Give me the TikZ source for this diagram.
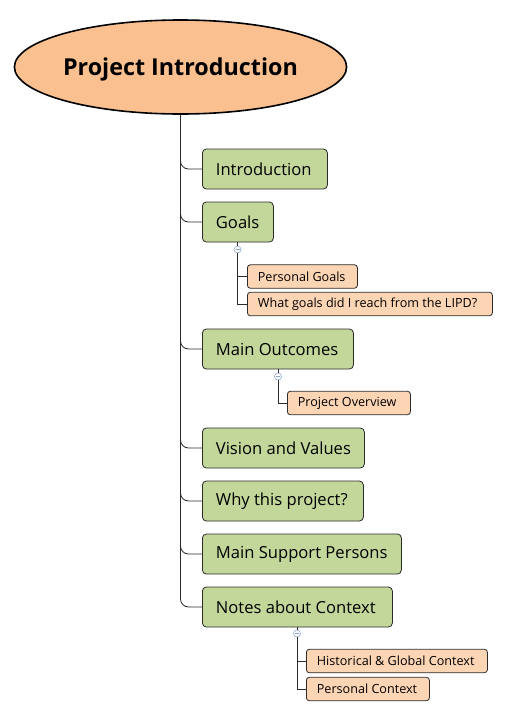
\documentclass[tikz,border=0pt]{standalone}
\usepackage{fontspec}
\setmainfont{Open Sans}
\usetikzlibrary{shapes.geometric}
\definecolor{rootfill}{HTML}{FAC090}
\definecolor{gfill}{HTML}{C4D79B}
\definecolor{ofill}{HTML}{FCD5B5}
\definecolor{edge}{HTML}{2B2B2B}
\definecolor{ccol}{HTML}{8EA6CF}
\begin{document}
\begin{tikzpicture}[x=1pt,y=-1pt,
  rootnode/.style={ellipse,draw=black,line width=1.6pt,fill=rootfill,minimum width=328pt,minimum height=94pt,inner sep=0pt,text depth=0pt,font=\fontsize{23.3}{27}\selectfont\bfseries},
  gbox/.style={rectangle,rounded corners=4pt,draw=edge,line width=0.8pt,fill=gfill,anchor=west,minimum height=40pt,inner xsep=13.5pt,inner ysep=0pt,font=\fontsize{16.6}{20}\selectfont},
  obox/.style={rectangle,rounded corners=3pt,draw=edge,line width=0.8pt,fill=ofill,anchor=west,minimum height=23.5pt,inner xsep=10.5pt,inner ysep=0pt,font=\fontsize{12.6}{15}\selectfont},
  coll/.style={circle,draw=ccol,fill=white,line width=0.6pt,minimum size=7pt,inner sep=0pt,path picture={\draw[ccol,line width=0.6pt] ([xshift=-2pt]path picture bounding box.center) -- ([xshift=2pt]path picture bounding box.center);}},
  conn/.style={draw=edge,line width=0.8pt},
]
\useasboundingbox (0,0) rectangle (508,718);
\node[rootnode] (root) at (180.5,67) {Project Introduction};

\node[gbox] (intro) at (202,169) {\makebox[98pt][l]{Introduction}};
\node[gbox] (goals) at (202,222) {\makebox[44pt][l]{Goals}};
\node[gbox] (outc) at (202,349) {\makebox[124pt][l]{Main Outcomes}};
\node[gbox] (vis) at (202,448) {\makebox[135pt][l]{Vision and Values}};
\node[gbox] (why) at (202,501) {\makebox[134pt][l]{Why this project?}};
\node[gbox] (supp) at (202,554) {\makebox[172pt][l]{Main Support Persons}};
\node[gbox] (notes) at (202,607) {\makebox[163pt][l]{Notes about Context}};

\node[obox] (pg) at (247,276.5) {\makebox[89pt][l]{Personal Goals}};
\node[obox] (wg) at (247,304) {\makebox[224pt][l]{What goals did I reach from the LIPD?}};
\node[obox] (po) at (287,403) {\makebox[102pt][l]{Project Overview}};
\node[obox] (hg) at (306,661) {\makebox[160pt][l]{Historical \& Global Context}};
\node[obox] (pc) at (306,689) {\makebox[102pt][l]{Personal Context}};

\foreach \t in {intro,goals,outc,vis,why,supp,notes}
  \draw[conn,rounded corners=8pt] (root.south) |- (\t.west);

\node[coll] (gc) at (237.5,249.5) {};
\node[coll] (oc) at (278,376.5) {};
\node[coll] (nc) at (297,633.5) {};

\draw[conn] (gc.north) -- (gc.north |- goals.south);
\draw[conn] (oc.north) -- (oc.north |- outc.south);
\draw[conn] (nc.north) -- (nc.north |- notes.south);
\draw[conn] (gc.south) |- (pg.west);
\draw[conn] (gc.south) |- (wg.west);
\draw[conn] (oc.south) |- (po.west);
\draw[conn] (nc.south) |- (hg.west);
\draw[conn] (nc.south) |- (pc.west);
\end{tikzpicture}
\end{document}
